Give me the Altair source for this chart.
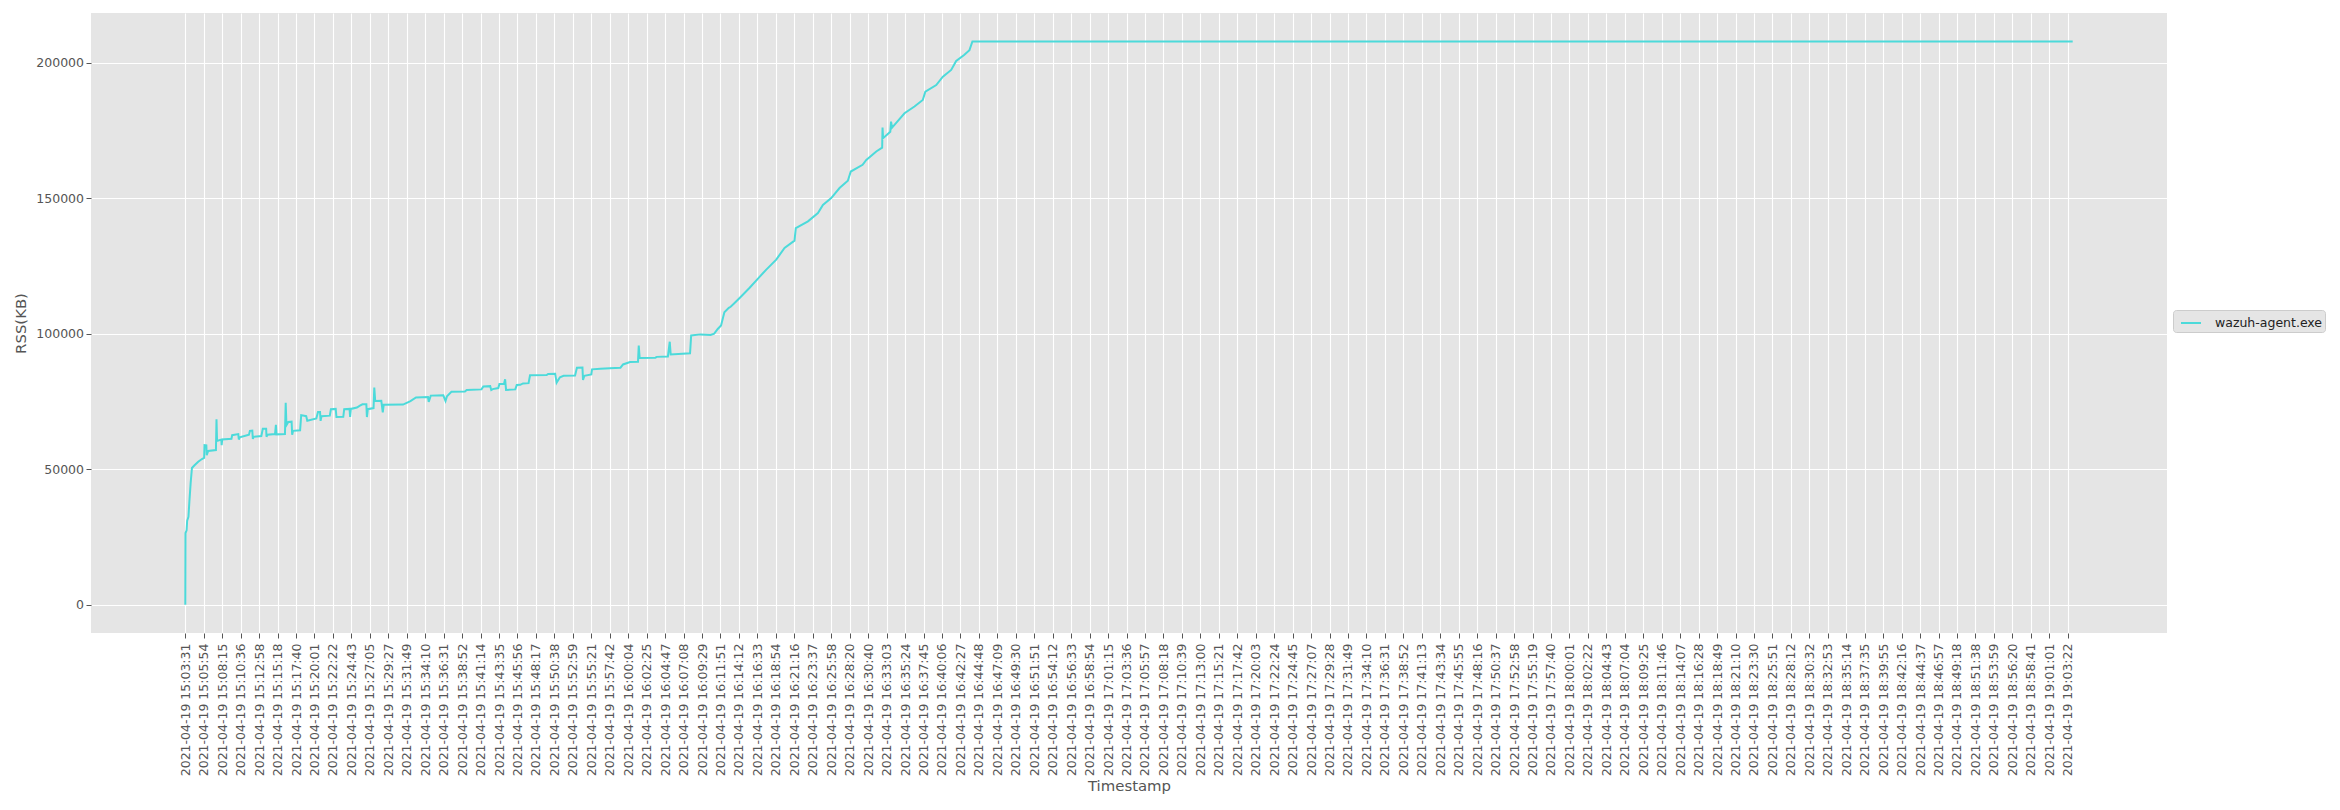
import altair as alt
import pandas as pd

# Tick labels shown on the x axis (one per evenly spaced tick position)
TICK_LABELS = [
    "15:03:31", "15:05:54", "15:08:15", "15:10:36", "15:12:58", "15:15:18", "15:17:40", "15:20:01",
    "15:22:22", "15:24:43", "15:27:05", "15:29:27", "15:31:49", "15:34:10", "15:36:31", "15:38:52",
    "15:41:14", "15:43:35", "15:45:56", "15:48:17", "15:50:38", "15:52:59", "15:55:21", "15:57:42",
    "16:00:04", "16:02:25", "16:04:47", "16:07:08", "16:09:29", "16:11:51", "16:14:12", "16:16:33",
    "16:18:54", "16:21:16", "16:23:37", "16:25:58", "16:28:20", "16:30:40", "16:33:03", "16:35:24",
    "16:37:45", "16:40:06", "16:42:27", "16:44:48", "16:47:09", "16:49:30", "16:51:51", "16:54:12",
    "16:56:33", "16:58:54", "17:01:15", "17:03:36", "17:05:57", "17:08:18", "17:10:39", "17:13:00",
    "17:15:21", "17:17:42", "17:20:03", "17:22:24", "17:24:45", "17:27:07", "17:29:28", "17:31:49",
    "17:34:10", "17:36:31", "17:38:52", "17:41:13", "17:43:34", "17:45:55", "17:48:16", "17:50:37",
    "17:52:58", "17:55:19", "17:57:40", "18:00:01", "18:02:22", "18:04:43", "18:07:04", "18:09:25",
    "18:11:46", "18:14:07", "18:16:28", "18:18:49", "18:21:10", "18:23:30", "18:25:51", "18:28:12",
    "18:30:32", "18:32:53", "18:35:14", "18:37:35", "18:39:55", "18:42:16", "18:44:37", "18:46:57",
    "18:49:18", "18:51:38", "18:53:59", "18:56:20", "18:58:41", "19:01:01", "19:03:22",
]
DATE = "2021-04-19"
TICK_TEXT = [f"{DATE} {t}" for t in TICK_LABELS]

SERIES = "wazuh-agent.exe"

# Sample position, in units of tick intervals (tick k sits at position k)
X_POS = [
    0.00, 0.01, 0.07, 0.10, 0.17, 0.22, 0.29, 0.36, 0.50, 0.70, 0.90, 1.02, 1.04, 1.14, 1.16, 1.24,
    1.66, 1.69, 1.72, 1.95, 1.97, 2.00, 2.50, 2.54, 2.87, 2.90, 2.95, 3.30, 3.45, 3.50, 3.63, 3.66,
    3.70, 4.12, 4.20, 4.38, 4.40, 4.45, 4.86, 4.91, 4.94, 5.40, 5.44, 5.48, 5.58, 5.76, 5.79, 5.84,
    6.22, 6.28, 6.55, 6.61, 7.10, 7.19, 7.30, 7.33, 7.38, 7.83, 7.89, 8.15, 8.19, 8.56, 8.61, 8.90,
    8.93, 8.97, 9.30, 9.46, 9.60, 9.81, 9.84, 9.89, 10.20, 10.24, 10.29, 10.62, 10.70, 10.75, 11.80,
    12.20, 12.50, 13.15, 13.19, 13.30, 13.98, 14.10, 14.18, 14.42, 15.15, 15.25, 16.05, 16.15, 16.52,
    16.58, 16.66, 16.96, 17.02, 17.27, 17.33, 17.38, 17.88, 17.96, 18.15, 18.30, 18.60, 18.68, 19.58,
    19.66, 20.04, 20.12, 20.30, 20.50, 21.12, 21.22, 21.52, 21.55, 21.62, 22.00, 22.04, 22.49, 23.00,
    23.58, 23.72, 24.10, 24.53, 24.57, 24.62, 25.47, 25.55, 26.15, 26.25, 26.30, 27.35, 27.41, 27.91,
    28.46, 28.66, 28.85, 29.03, 29.21, 29.45, 29.55, 29.72, 30.05, 30.58, 31.03, 31.48, 32.02, 32.47,
    33.01, 33.08, 33.74, 34.28, 34.55, 35.00, 35.45, 35.90, 36.06, 36.70, 36.90, 37.44, 37.76, 37.78,
    37.81, 38.20, 38.24, 38.30, 38.97, 39.51, 39.96, 40.10, 40.69, 41.05, 41.50, 41.77, 42.20, 42.49,
    42.65, 102.27,
]

# RSS (KB) at each sample
RSS = [
    0, 26500, 27500, 31000, 32500, 38000, 45000, 50500, 51500, 52800, 53800, 54200, 58900, 58800, 55200, 56800,
    57100, 68500, 60500, 61000, 58900, 61000, 61300, 62600, 63000, 61000, 61800, 62500, 62800, 64200, 64300, 61200,
    62000, 62300, 65000, 65000, 62000, 62800, 63000, 66400, 62900, 63000, 74600, 66300, 67500, 67600, 62800, 64200,
    64400, 70000, 69600, 67900, 68800, 71200, 71200, 67900, 69600, 69800, 72200, 72300, 69300, 69400, 72200, 72300,
    69300, 72300, 72800, 73500, 74000, 74000, 69300, 72200, 72600, 80200, 75200, 75300, 71000, 73800, 73900,
    75200, 76500, 76700, 74900, 77200, 77300, 75200, 77000, 78600, 78700, 79300, 79500, 80600, 80700,
    79300, 79600, 80000, 81500, 81600, 83200, 79300, 79500, 81100, 81200, 81700, 81800, 84700, 84800,
    85200, 85300, 82000, 84000, 84500, 84600, 87500, 87600, 83000, 84500, 85000, 86900, 87100, 87300,
    87500, 88700, 89600, 89700, 95700, 91100, 91200, 91500, 91600, 97100, 92400, 92800, 99400, 99800,
    99600, 100100, 101800, 103100, 108000, 109600, 110000, 111100, 113300, 117000, 120400, 123700, 127400, 131700,
    134400, 139000, 141500, 144600, 147600, 150100, 153800, 156500, 159900, 162400, 164200, 167300, 168700, 176100,
    172200, 174600, 178300, 176100, 181400, 183900, 186300, 189400, 191800, 194900, 197400, 200700, 202900, 204700,
    207900, 207900,
]

Y_TICKS = [0, 50000, 100000, 150000, 200000]

df = pd.DataFrame({"pos": X_POS, "rss": RSS, "process": SERIES})

label_array = "[" + ",".join(f"'{t}'" for t in TICK_TEXT) + "]"
label_expr = f"{label_array}[round(datum.value)]"

FONT = "DejaVu Sans"
GREY = "#555555"

x_min, x_max = -5.11, 107.38
y_min, y_max = -10400, 218400

chart = (
    alt.Chart(df)
    .mark_line(strokeWidth=2, clip=True)
    .encode(
        x=alt.X(
            "pos:Q",
            title="Timestamp",
            scale=alt.Scale(domain=[x_min, x_max], nice=False, zero=False),
            axis=alt.Axis(
                values=list(range(len(TICK_TEXT))),
                labelExpr=label_expr,
                labelAngle=270,
                labelAlign="right",
                labelBaseline="middle",
                labelOverlap=False,
                labelFlush=False,
                labelBound=False,
                labelPadding=5,
                titleY=153,
                titleBaseline="middle",
            ),
        ),
        y=alt.Y(
            "rss:Q",
            title="RSS(KB)",
            scale=alt.Scale(domain=[y_min, y_max], nice=False, zero=False),
            axis=alt.Axis(
                values=Y_TICKS,
                format="d",
                labelPadding=2.5,
                titleX=-70,
                titleBaseline="middle",
            ),
        ),
        color=alt.Color(
            "process:N",
            scale=alt.Scale(domain=[SERIES], range=["#4CDADA"]),
            legend=alt.Legend(
                title=None,
                orient="none",
                legendX=2082,
                legendY=297,
                symbolType="stroke",
                symbolSize=400,
                symbolStrokeWidth=2,
                symbolOffset=5,
                fillColor="#E5E5E5",
                strokeColor="#CCCCCC",
                cornerRadius=3,
                padding=2,
                labelFont=FONT,
                labelFontSize=12.5,
                labelColor="#222222",
                labelOffset=13,
            ),
        ),
    )
    .properties(
        width=2076,
        height=620,
        autosize=alt.AutoSizeParams(type="none"),
        padding={"left": 83, "top": 5, "right": 165, "bottom": 169},
        background="white",
    )
    .configure_view(fill="#E5E5E5", strokeWidth=0)
    .configure_axis(
        domain=False,
        grid=True,
        gridColor="#FFFFFF",
        gridWidth=1.1,
        tickColor=GREY,
        tickSize=5,
        tickWidth=1,
        labelColor=GREY,
        labelFont=FONT,
        labelFontSize=12.5,
        titleColor=GREY,
        titleFont=FONT,
        titleFontSize=14.9,
        titleFontWeight="normal",
    )
)

chart.save("out.html", embed_options={"renderer": "svg", "actions": False})
